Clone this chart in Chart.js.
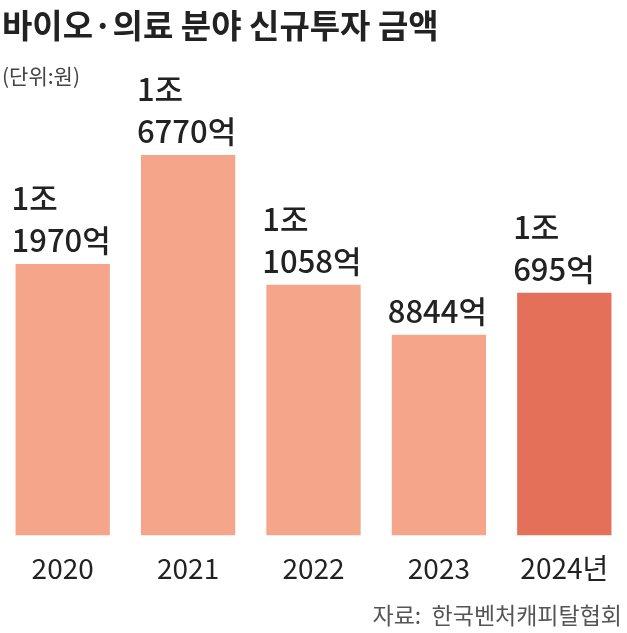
<!DOCTYPE html>
<html><head><meta charset="utf-8">
<script src="https://cdn.jsdelivr.net/npm/chart.js@4"></script>
<style>body{margin:0;background:#fff}#wrap{width:627px;height:633px}</style>
</head><body><div id="wrap"><canvas id="c"></canvas></div>
<script>
const years = ["2020", "2021", "2022", "2023", "2024년"];
const values = [11970, 16770, 11058, 8844, 10695]; // 억원
const valueLabels = [["1조", "1970억"], ["1조", "6770억"], ["1조", "1058억"], ["8844억"], ["1조", "695억"]];
const FONT = "'Noto Sans CJK KR', 'Noto Sans', sans-serif";

// 제목, 단위, 출처, 값 라벨
const textPlugin = {
  id: "texts",
  afterDraw(chart) {
    const ctx = chart.ctx;
    ctx.save();
    ctx.fillStyle = "#222";
    ctx.textBaseline = "alphabetic";
    ctx.textAlign = "left";
    ctx.font = "bold 33px " + FONT;
    ctx.fillText("바이오·의료 분야 신규투자 금액", 2, 38);
    ctx.font = "21px " + FONT;
    ctx.fillStyle = "#444";
    ctx.fillText("(단위:원)", 2, 84);
    ctx.textAlign = "right";
    ctx.font = "23px " + FONT;
    ctx.fillStyle = "#555";
    ctx.fillText("자료:  한국벤처캐피탈협회", 622, 624);
    ctx.textAlign = "left";
    ctx.fillStyle = "#222";
    ctx.font = "500 31px " + FONT;
    chart.getDatasetMeta(0).data.forEach((bar, i) => {
      const lines = valueLabels[i];
      const left = bar.x - bar.width / 2;
      lines.forEach((t, j) => {
        ctx.fillText(t, left - 4, bar.y - 12 - (lines.length - 1 - j) * 42);
      });
    });
    ctx.restore();
  }
};

new Chart(document.getElementById("c"), {
  type: "bar",
  data: {
    labels: years,
    datasets: [{
      data: values,
      backgroundColor: ["#F4A58A", "#F4A58A", "#F4A58A", "#F4A58A", "#E4705A"],
      barPercentage: 0.94,
      categoryPercentage: 0.8
    }]
  },
  options: {
    responsive: true,
    maintainAspectRatio: false,
    animation: false,
    layout: { padding: { top: 100, bottom: 40, left: 0, right: 0 } },
    plugins: { legend: { display: false }, tooltip: { enabled: false } },
    scales: {
      y: { display: false, min: 0, max: 19200 },
      x: {
        grid: { display: false },
        border: { display: false },
        ticks: { color: "#222", font: { family: FONT, size: 28 }, padding: 8 }
      }
    }
  },
  plugins: [textPlugin]
});
</script></body></html>
